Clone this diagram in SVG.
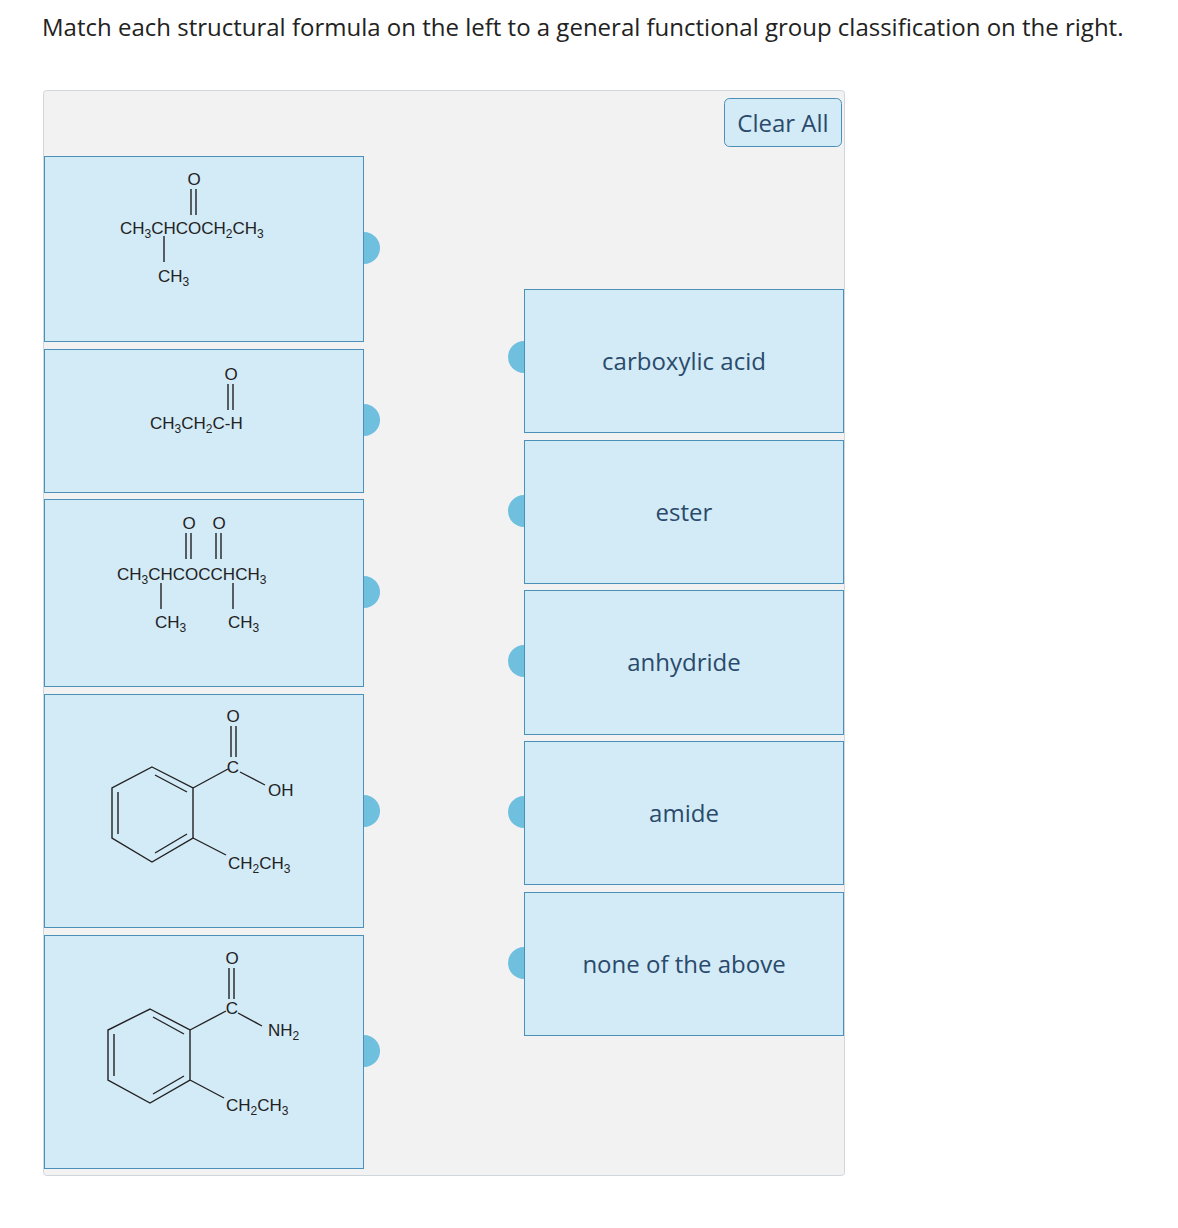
<svg xmlns="http://www.w3.org/2000/svg" width="1178" height="1228" viewBox="0 0 1178 1228">
<style>
.t{font-family:"Open Sans","Liberation Sans",sans-serif;}
.box{fill:#d3eaf7;stroke:#4a90b8;stroke-width:1}
.lbl{font-family:"Open Sans","Liberation Sans",sans-serif;font-size:24px;fill:#2a4a6b;text-anchor:middle}
.ch{font-family:"Liberation Sans",Arial,sans-serif;font-size:17px;fill:#222}
.sub{font-size:12px}
.b{stroke:#222;stroke-width:1.4;fill:none}
.knob{fill:#6fbfde}
</style>
<rect width="1178" height="1228" fill="#fff"/>
<text x="42" y="36" class="t" font-size="24" fill="#222">Match each structural formula on the left to a general functional group classification on the right.</text>
<rect x="43.500" y="90.500" width="801" height="1085" rx="3" fill="#f2f2f2" stroke="#cfd6dc"/>
<g id="clear"><rect x="724.500" y="98.500" width="117" height="48" rx="5" fill="#d3eaf7" stroke="#4a90b8"/><text x="783" y="132" class="lbl">Clear All</text></g>
<g id="connectors"></g>
<g id="f1">
<rect class="box" x="44.500" y="156.500" width="319" height="185"/>
<path class="knob" d="M364 232a16 16 0 0 1 0 32z"/>
<text class="ch" x="194" y="185" text-anchor="middle">O</text>
<path class="b" d="M191 189v26M196 189v26M164 236v26"/>
<text class="ch" x="120" y="234">CH<tspan class="sub" dy="4">3</tspan><tspan dy="-4">CHCOCH</tspan><tspan class="sub" dy="4">2</tspan><tspan dy="-4">CH</tspan><tspan class="sub" dy="4">3</tspan></text>
<text class="ch" x="158" y="282">CH<tspan class="sub" dy="4">3</tspan></text>
</g>
<g id="f2">
<rect class="box" x="44.500" y="349.500" width="319" height="143"/>
<path class="knob" d="M364 404a16 16 0 0 1 0 32z"/>
<text class="ch" x="231" y="380" text-anchor="middle">O</text>
<path class="b" d="M228 384v26M233 384v26"/>
<text class="ch" x="150" y="429">CH<tspan class="sub" dy="4">3</tspan><tspan dy="-4">CH</tspan><tspan class="sub" dy="4">2</tspan><tspan dy="-4">C-H</tspan></text>
</g>
<g id="f3">
<rect class="box" x="44.500" y="499.500" width="319" height="187"/>
<path class="knob" d="M364 576a16 16 0 0 1 0 32z"/>
<text class="ch" x="189" y="529" text-anchor="middle">O</text>
<text class="ch" x="219" y="529" text-anchor="middle">O</text>
<path class="b" d="M186 533v26M191 533v26M216 533v26M221 533v26M161 583v26M233 583v26"/>
<text class="ch" x="117" y="580">CH<tspan class="sub" dy="4">3</tspan><tspan dy="-4">CHCOCCHCH</tspan><tspan class="sub" dy="4">3</tspan></text>
<text class="ch" x="155" y="628">CH<tspan class="sub" dy="4">3</tspan></text>
<text class="ch" x="228" y="628">CH<tspan class="sub" dy="4">3</tspan></text>
</g>
<g id="f4">
<rect class="box" x="44.500" y="694.500" width="319" height="233"/>
<path class="knob" d="M364 795a16 16 0 0 1 0 32z"/>
<path class="b" d="M152 767L193 788L193 838L152 862L112 838L112 788Z"/>
<path class="b" d="M155 775L187 792M187 834L155 853M118 792V834"/>
<path class="b" d="M193 788L228 769M240 772L265 785M193 838L226 855M231 726V757M236 726V757"/>
<text class="ch" x="233" y="722" text-anchor="middle">O</text>
<text class="ch" x="233" y="773" text-anchor="middle" font-size="14">C</text>
<text class="ch" x="268" y="796">OH</text>
<text class="ch" x="228" y="869">CH<tspan class="sub" dy="4">2</tspan><tspan dy="-4">CH</tspan><tspan class="sub" dy="4">3</tspan></text>
</g>
<g id="f5">
<rect class="box" x="44.500" y="935.500" width="319" height="233"/>
<path class="knob" d="M364 1035a16 16 0 0 1 0 32z"/>
<path class="b" d="M150 1009L190 1030L190 1080L150 1103L108 1080L108 1030Z"/>
<path class="b" d="M153 1017L184 1034M184 1076L153 1094M114 1034V1076"/>
<path class="b" d="M190 1030L226 1011M238 1013L262 1026M190 1080L224 1098M229 968V999M234 968V999"/>
<text class="ch" x="232" y="964" text-anchor="middle">O</text>
<text class="ch" x="232" y="1014" text-anchor="middle" font-size="14">C</text>
<text class="ch" x="268" y="1036">NH<tspan class="sub" dy="4">2</tspan></text>
<text class="ch" x="226" y="1111">CH<tspan class="sub" dy="4">2</tspan><tspan dy="-4">CH</tspan><tspan class="sub" dy="4">3</tspan></text>
</g>
<g id="c1"><path class="knob" d="M524 341a16 16 0 0 0 0 32z"/><rect class="box" x="524.500" y="289.500" width="319" height="143"/><text class="lbl" x="684" y="370">carboxylic acid</text></g>
<g id="c2"><path class="knob" d="M524 495a16 16 0 0 0 0 32z"/><rect class="box" x="524.500" y="440.500" width="319" height="143"/><text class="lbl" x="684" y="521">ester</text></g>
<g id="c3"><path class="knob" d="M524 645a16 16 0 0 0 0 32z"/><rect class="box" x="524.500" y="590.500" width="319" height="144"/><text class="lbl" x="684" y="671">anhydride</text></g>
<g id="c4"><path class="knob" d="M524 796a16 16 0 0 0 0 32z"/><rect class="box" x="524.500" y="741.500" width="319" height="143"/><text class="lbl" x="684" y="822">amide</text></g>
<g id="c5"><path class="knob" d="M524 947a16 16 0 0 0 0 32z"/><rect class="box" x="524.500" y="892.500" width="319" height="143"/><text class="lbl" x="684" y="973">none of the above</text></g>
</svg>
